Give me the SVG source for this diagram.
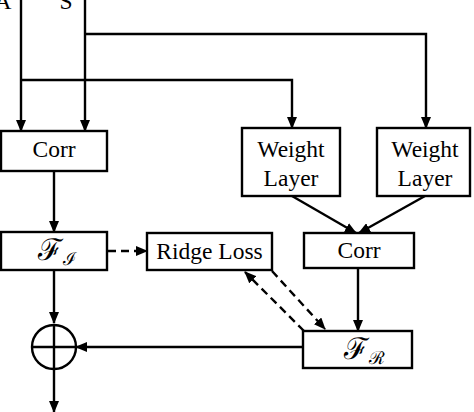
<svg xmlns="http://www.w3.org/2000/svg" width="474" height="412" viewBox="0 0 474 412">
<style>
.box{fill:#fff;stroke:#000;stroke-width:2.4}
.ln{fill:none;stroke:#000;stroke-width:2.4}
.dash{fill:none;stroke:#000;stroke-width:2.4;stroke-dasharray:8,5}
.t{font-family:"Liberation Serif","Times New Roman",serif;font-size:23.5px;fill:#000;text-anchor:middle}
.m{font-family:"DejaVu Serif","Liberation Serif",serif;fill:#000}
</style>
<defs>
<marker id="ah" markerWidth="12" markerHeight="10" refX="11" refY="5" orient="auto" markerUnits="userSpaceOnUse">
<path d="M0,0 L12,5 L0,10 Z" fill="#000"/>
</marker>
</defs>
<g id="labels">
<text class="t" x="3" y="9">A</text>
<text class="t" x="66" y="9">S</text>
</g>
<g id="connectors">
<path class="ln" d="M21,0 V131" marker-end="url(#ah)"/>
<path class="ln" d="M85,0 V131" marker-end="url(#ah)"/>
<path class="ln" d="M21,80 H292 V128" marker-end="url(#ah)"/>
<path class="ln" d="M85,34 H426 V128" marker-end="url(#ah)"/>
<path class="ln" d="M54,171 V232" marker-end="url(#ah)"/>
<path class="dash" d="M108,251 H147" marker-end="url(#ah)"/>
<path class="ln" d="M292,196 L356,233" marker-end="url(#ah)"/>
<path class="ln" d="M425,196 L359,233" marker-end="url(#ah)"/>
<path class="ln" d="M358,268 V331" marker-end="url(#ah)"/>
<path class="dash" d="M272,271 L325,329" marker-end="url(#ah)"/>
<path class="dash" d="M304,331 L245,272" marker-end="url(#ah)"/>
<path class="ln" d="M54,270 V323" marker-end="url(#ah)"/>
<path class="ln" d="M303,347 H76" marker-end="url(#ah)"/>
<path class="ln" d="M54,369 V412" marker-end="url(#ah)"/>
</g>
<g id="corr1">
<rect class="box" x="1" y="131" width="106" height="40"/>
<text class="t" x="54" y="157">Corr</text>
</g>
<g id="fi">
<rect class="box" x="1" y="232" width="106" height="38"/>
<text class="m" x="38" y="260" font-size="30">ℱ<tspan font-size="18" dy="5">ℐ</tspan></text>
</g>
<g id="sum">
<circle class="ln" cx="54" cy="347" r="22"/>
<path class="ln" d="M32,347 H76 M54,325 V369"/>
</g>
<g id="ridge">
<rect class="box" x="147" y="233" width="125" height="37"/>
<text class="t" x="209.5" y="259">Ridge Loss</text>
</g>
<g id="wl1">
<rect class="box" x="242" y="128" width="98" height="68"/>
<text class="t" x="291" y="157">Weight</text>
<text class="t" x="291" y="186">Layer</text>
</g>
<g id="wl2">
<rect class="box" x="377" y="128" width="93" height="68"/>
<text class="t" x="425" y="157">Weight</text>
<text class="t" x="425" y="186">Layer</text>
</g>
<g id="corr2">
<rect class="box" x="304" y="233" width="110" height="35"/>
<text class="t" x="359" y="258">Corr</text>
</g>
<g id="fr">
<rect class="box" x="303" y="331" width="109" height="37"/>
<text class="m" x="344" y="359" font-size="30">ℱ<tspan font-size="18" dy="5">ℛ</tspan></text>
</g>
</svg>
